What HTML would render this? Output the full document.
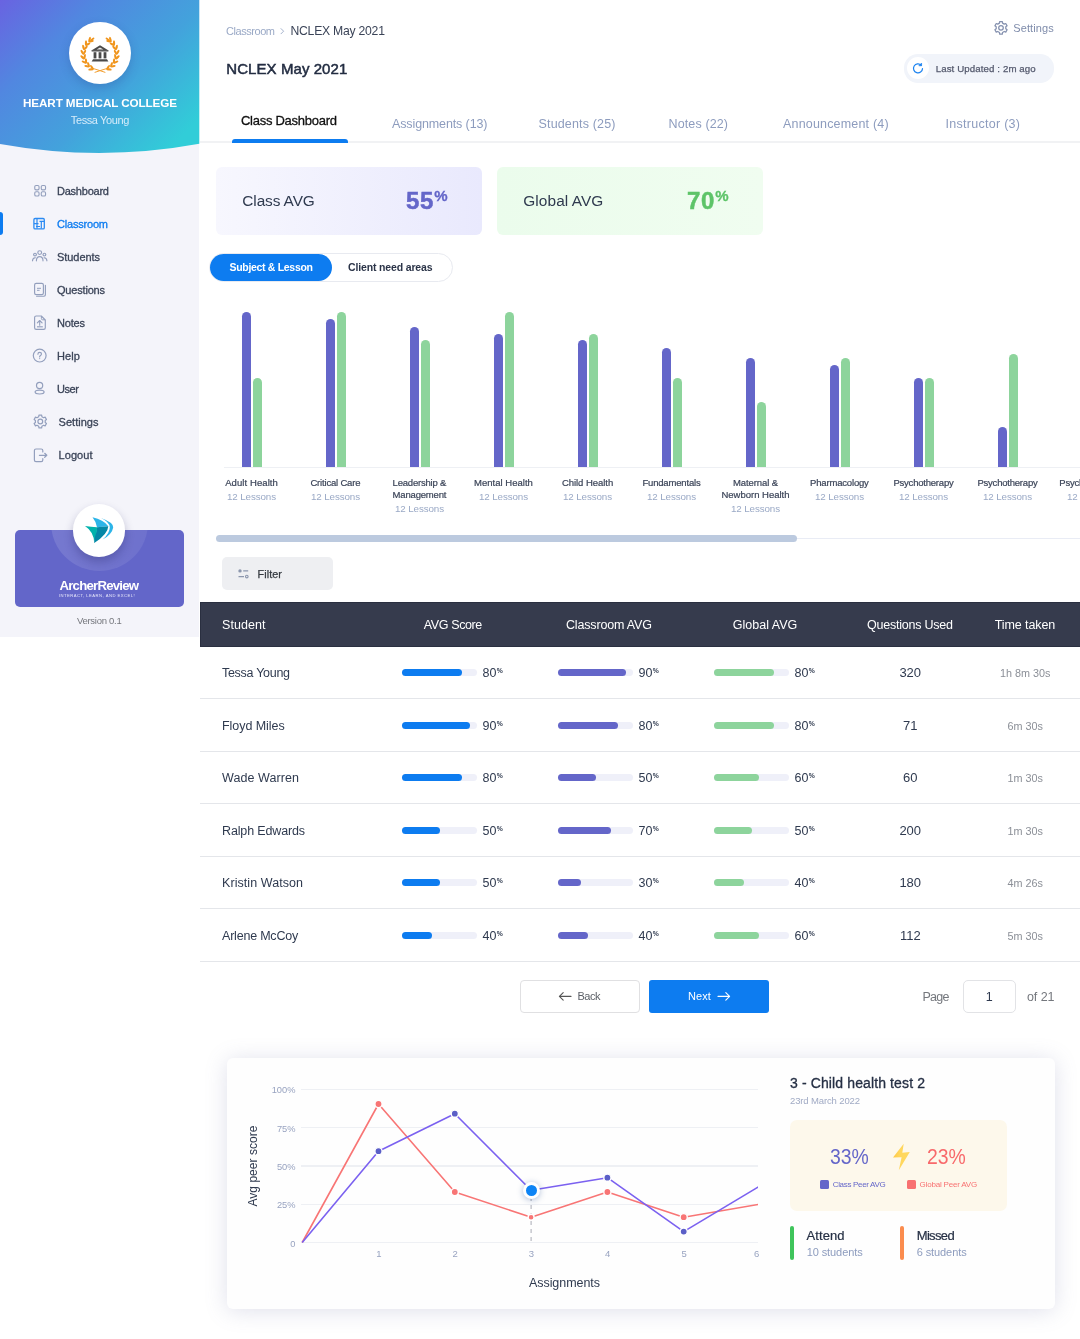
<!DOCTYPE html>
<html lang="en">
<head>
<meta charset="utf-8">
<title>NCLEX May 2021 - Class Dashboard</title>
<style>
html,body{margin:0;padding:0;background:#fff;}
body{width:1080px;height:1339px;overflow:hidden;font-family:"Liberation Sans",sans-serif;}
#app{position:relative;width:1080px;height:1339px;overflow:hidden;background:#fff;}
.t{position:absolute;white-space:pre;font-family:"Liberation Sans",sans-serif;}
svg{position:absolute;overflow:visible;}
</style>
</head>
<body>
<div id="app">
<aside aria-label="Sidebar">
<div style="position:absolute;left:0px;top:0px;width:199.4px;height:637.3px;background:#f4f4fa;"></div>
<svg width="199.3" height="160" style="left:0;top:0" viewBox="0 0 199.3 160">
<defs><linearGradient id="hg" x1="0" y1="0" x2="1" y2="0.78">
<stop offset="0" stop-color="#6963e1"/><stop offset="0.3" stop-color="#5187e0"/><stop offset="0.65" stop-color="#43a2dc"/><stop offset="1" stop-color="#31cdd8"/></linearGradient></defs>
<path d="M0 0H199.3V143.8Q100 162 0 144Z" fill="url(#hg)"/></svg>
<div style="position:absolute;left:69px;top:22px;width:62px;height:62px;border-radius:50%;background:#fff;box-shadow:0 4px 10px rgba(40,60,140,.25);"></div>
<span class="t" style="left:23.0px;top:97.0px;font-size:11.7px;line-height:11.7px;color:#fff;font-weight:700;letter-spacing:-0.11px;">HEART MEDICAL COLLEGE</span>
<span class="t" style="left:70.8px;top:115.0px;font-size:11px;line-height:11px;color:#d6ecfa;letter-spacing:-0.39px;">Tessa Young</span>
<span class="t" style="left:57.0px;top:186.0px;font-size:11px;line-height:11px;color:#3b4458;letter-spacing:-0.23px;-webkit-text-stroke:0.3px #3b4458;">Dashboard</span>
<span class="t" style="left:57.0px;top:219.0px;font-size:11px;line-height:11px;color:#0d7cf0;letter-spacing:-0.2px;-webkit-text-stroke:0.3px #0d7cf0;">Classroom</span>
<span class="t" style="left:57.0px;top:252.0px;font-size:11px;line-height:11px;color:#3b4458;letter-spacing:-0.06px;-webkit-text-stroke:0.3px #3b4458;">Students</span>
<span class="t" style="left:57.0px;top:285.0px;font-size:11px;line-height:11px;color:#3b4458;letter-spacing:-0.19px;-webkit-text-stroke:0.3px #3b4458;">Questions</span>
<span class="t" style="left:57.0px;top:318.0px;font-size:11px;line-height:11px;color:#3b4458;letter-spacing:-0.19px;-webkit-text-stroke:0.3px #3b4458;">Notes</span>
<span class="t" style="left:57.0px;top:351.0px;font-size:11px;line-height:11px;color:#3b4458;letter-spacing:0.12px;-webkit-text-stroke:0.3px #3b4458;">Help</span>
<span class="t" style="left:57.0px;top:384.0px;font-size:11px;line-height:11px;color:#3b4458;letter-spacing:-0.41px;-webkit-text-stroke:0.3px #3b4458;">User</span>
<span class="t" style="left:58.5px;top:417.0px;font-size:11px;line-height:11px;color:#3b4458;letter-spacing:0.04px;-webkit-text-stroke:0.3px #3b4458;">Settings</span>
<span class="t" style="left:58.5px;top:450.0px;font-size:11px;line-height:11px;color:#3b4458;letter-spacing:0.07px;-webkit-text-stroke:0.3px #3b4458;">Logout</span>
<div style="position:absolute;left:0px;top:212px;width:3px;height:23px;background:#0d7cf0;border-radius:0 3px 3px 0;"></div>
<div style="position:absolute;left:15px;top:530px;width:169.4px;height:77.3px;border-radius:5px;overflow:hidden;background:#6366c9;"><div style="position:absolute;left:36.2px;top:-55.7px;width:96.6px;height:96.6px;border-radius:50%;background:linear-gradient(100deg,rgba(255,255,255,.13),rgba(255,255,255,.07));"></div></div>
<div style="position:absolute;left:72.8px;top:504.2px;width:52.4px;height:52.4px;border-radius:50%;background:#fff;box-shadow:0 5px 10px rgba(30,30,90,.28);"></div>
<span class="t" style="left:59.5px;top:579.0px;font-size:13.2px;line-height:13.2px;color:#fff;font-weight:700;letter-spacing:-0.77px;">ArcherReview</span>
<span class="t" style="left:58.8px;top:593.5px;font-size:4.2px;line-height:4.2px;color:#e6e6fa;letter-spacing:0.47px;">INTERACT, LEARN, AND EXCEL!</span>
<span class="t" style="left:76.9px;top:616.0px;font-size:9.5px;line-height:9.5px;color:#75777d;letter-spacing:-0.27px;">Version 0.1</span>
</aside>
<main>
<header>
<span class="t" style="left:226.0px;top:26.0px;font-size:11px;line-height:11px;color:#9aa9c6;letter-spacing:-0.45px;">Classroom</span>
<svg width="1080" height="60" style="left:0;top:0" viewBox="0 0 1080 60"><path d="M281 28.6L283.6 31.2L281 33.8" fill="none" stroke="#9aa9c6" stroke-width="0.9" stroke-linecap="round" stroke-linejoin="round"/></svg>
<span class="t" style="left:290.5px;top:25.0px;font-size:12.2px;line-height:12.2px;color:#3b4458;letter-spacing:-0.24px;">NCLEX May 2021</span>
<span class="t" style="left:226.3px;top:61.0px;font-size:15px;line-height:15px;color:#232d42;letter-spacing:0.07px;-webkit-text-stroke:0.5px #232d42;">NCLEX May 2021</span>
<span class="t" style="left:1013.3px;top:23.0px;font-size:11px;line-height:11px;color:#7f8cab;letter-spacing:0.09px;">Settings</span>
<div style="position:absolute;left:904px;top:54px;width:150px;height:28.5px;background:#f1f4fa;border-radius:14px;"></div>
<div style="position:absolute;left:907px;top:57.3px;width:22px;height:22px;background:#fff;border-radius:50%;"></div>
<span class="t" style="left:935.7px;top:64.0px;font-size:9.7px;line-height:9.7px;color:#555a6e;letter-spacing:0.1px;-webkit-text-stroke:0.25px #555a6e;">Last Updated : 2m ago</span>
<div style="position:absolute;left:200px;top:141px;width:880px;height:2px;background:#f1f2f4;"></div>
<div style="position:absolute;left:232px;top:139px;width:115.5px;height:3.5px;background:#0d7cf0;border-radius:3px 3px 0 0;"></div>
<span class="t" style="left:241.0px;top:114.0px;font-size:13px;line-height:13px;color:#111;letter-spacing:-0.27px;-webkit-text-stroke:0.3px #111;">Class Dashboard</span>
<span class="t" style="left:392.0px;top:118.0px;font-size:12.5px;line-height:12.5px;color:#8d9cbe;letter-spacing:-0.12px;">Assignments (13)</span>
<span class="t" style="left:538.5px;top:118.0px;font-size:12.5px;line-height:12.5px;color:#8d9cbe;letter-spacing:0.16px;">Students (25)</span>
<span class="t" style="left:668.5px;top:118.0px;font-size:12.5px;line-height:12.5px;color:#8d9cbe;letter-spacing:0.13px;">Notes (22)</span>
<span class="t" style="left:783.0px;top:118.0px;font-size:12.5px;line-height:12.5px;color:#8d9cbe;letter-spacing:0.18px;">Announcement (4)</span>
<span class="t" style="left:945.5px;top:118.0px;font-size:12.5px;line-height:12.5px;color:#8d9cbe;letter-spacing:0.28px;">Instructor (3)</span>
</header>
<section aria-label="Averages">
<div style="position:absolute;left:216px;top:167px;width:265.5px;height:68px;background:linear-gradient(90deg,#f7f7fe,#e9e9fd);border-radius:6px;"></div>
<div style="position:absolute;left:497px;top:167px;width:265.5px;height:68px;background:linear-gradient(90deg,#ebfcec,#f0fdf0);border-radius:6px;"></div>
<span class="t" style="left:242.3px;top:193.0px;font-size:15.4px;line-height:15.4px;color:#2f3a4f;letter-spacing:-0.1px;">Class AVG</span>
<span class="t" style="left:523.3px;top:193.0px;font-size:15.4px;line-height:15.4px;color:#2f3a4f;letter-spacing:0.08px;">Global AVG</span>
<span class="t" style="left:406.0px;top:189.0px;font-size:24px;line-height:24px;color:#6466c9;font-weight:700;letter-spacing:0.6px;-webkit-text-stroke:0.5px #6466c9;">55</span>
<span class="t" style="left:434.3px;top:188.0px;font-size:15px;line-height:15px;color:#6466c9;font-weight:700;-webkit-text-stroke:0.3px #6466c9;">%</span>
<span class="t" style="left:687.0px;top:189.0px;font-size:24px;line-height:24px;color:#5dc468;font-weight:700;letter-spacing:0.6px;-webkit-text-stroke:0.5px #5dc468;">70</span>
<span class="t" style="left:715.3px;top:188.0px;font-size:15px;line-height:15px;color:#5dc468;font-weight:700;-webkit-text-stroke:0.3px #5dc468;">%</span>
<div style="position:absolute;left:209px;top:252.5px;width:244px;height:29.5px;background:#fff;border:1px solid #e8eaf0;border-radius:15px;box-sizing:border-box;"></div>
<div style="position:absolute;left:210px;top:254px;width:122px;height:27px;background:#0d7cf0;border-radius:14px;"></div>
<span class="t" style="left:229.5px;top:262.0px;font-size:10.5px;line-height:10.5px;color:#fff;font-weight:700;letter-spacing:-0.31px;">Subject &amp; Lesson</span>
<span class="t" style="left:348.0px;top:262.0px;font-size:10.5px;line-height:10.5px;color:#2b3448;font-weight:700;letter-spacing:-0.15px;">Client need areas</span>
</section>
<section aria-label="Subject and lesson chart">
<div style="position:absolute;left:224px;top:467px;width:856px;height:1px;background:#eef0f4;"></div>
<div style="position:absolute;left:241.8px;top:312.4px;width:9.2px;height:154.90000000000003px;background:#6466c9;border-radius:4.6px 4.6px 0 0;"></div>
<div style="position:absolute;left:252.5px;top:378.4px;width:9.2px;height:88.90000000000003px;background:#8dd49c;border-radius:4.6px 4.6px 0 0;"></div>
<span class="t" style="left:225.2px;top:478.0px;font-size:9.5px;line-height:9.5px;color:#3b4458;letter-spacing:0.08px;-webkit-text-stroke:0.2px #3b4458;">Adult Health</span>
<span class="t" style="left:227.0px;top:492.0px;font-size:9.8px;line-height:9.8px;color:#9aa9c6;letter-spacing:-0.12px;">12 Lessons</span>
<div style="position:absolute;left:325.8px;top:319.3px;width:9.2px;height:148.0px;background:#6466c9;border-radius:4.6px 4.6px 0 0;"></div>
<div style="position:absolute;left:336.5px;top:312.4px;width:9.2px;height:154.90000000000003px;background:#8dd49c;border-radius:4.6px 4.6px 0 0;"></div>
<span class="t" style="left:310.4px;top:478.0px;font-size:9.5px;line-height:9.5px;color:#3b4458;letter-spacing:-0.18px;-webkit-text-stroke:0.2px #3b4458;">Critical Care</span>
<span class="t" style="left:311.0px;top:492.0px;font-size:9.8px;line-height:9.8px;color:#9aa9c6;letter-spacing:-0.12px;">12 Lessons</span>
<div style="position:absolute;left:409.8px;top:326.7px;width:9.2px;height:140.60000000000002px;background:#6466c9;border-radius:4.6px 4.6px 0 0;"></div>
<div style="position:absolute;left:420.5px;top:340.1px;width:9.2px;height:127.19999999999999px;background:#8dd49c;border-radius:4.6px 4.6px 0 0;"></div>
<span class="t" style="left:392.6px;top:478.0px;font-size:9.5px;line-height:9.5px;color:#3b4458;letter-spacing:-0.2px;-webkit-text-stroke:0.2px #3b4458;">Leadership &amp;</span>
<span class="t" style="left:392.6px;top:490.0px;font-size:9.5px;line-height:9.5px;color:#3b4458;letter-spacing:-0.18px;-webkit-text-stroke:0.2px #3b4458;">Management</span>
<span class="t" style="left:395.0px;top:504.0px;font-size:9.8px;line-height:9.8px;color:#9aa9c6;letter-spacing:-0.12px;">12 Lessons</span>
<div style="position:absolute;left:493.8px;top:334px;width:9.2px;height:133.3px;background:#6466c9;border-radius:4.6px 4.6px 0 0;"></div>
<div style="position:absolute;left:504.5px;top:312.4px;width:9.2px;height:154.90000000000003px;background:#8dd49c;border-radius:4.6px 4.6px 0 0;"></div>
<span class="t" style="left:474.1px;top:478.0px;font-size:9.5px;line-height:9.5px;color:#3b4458;letter-spacing:0.01px;-webkit-text-stroke:0.2px #3b4458;">Mental Health</span>
<span class="t" style="left:479.0px;top:492.0px;font-size:9.8px;line-height:9.8px;color:#9aa9c6;letter-spacing:-0.12px;">12 Lessons</span>
<div style="position:absolute;left:577.8px;top:340.1px;width:9.2px;height:127.19999999999999px;background:#6466c9;border-radius:4.6px 4.6px 0 0;"></div>
<div style="position:absolute;left:588.5px;top:334px;width:9.2px;height:133.3px;background:#8dd49c;border-radius:4.6px 4.6px 0 0;"></div>
<span class="t" style="left:561.9px;top:478.0px;font-size:9.5px;line-height:9.5px;color:#3b4458;letter-spacing:-0.04px;-webkit-text-stroke:0.2px #3b4458;">Child Health</span>
<span class="t" style="left:563.0px;top:492.0px;font-size:9.8px;line-height:9.8px;color:#9aa9c6;letter-spacing:-0.12px;">12 Lessons</span>
<div style="position:absolute;left:661.8px;top:348.3px;width:9.2px;height:119.0px;background:#6466c9;border-radius:4.6px 4.6px 0 0;"></div>
<div style="position:absolute;left:672.5px;top:378.4px;width:9.2px;height:88.90000000000003px;background:#8dd49c;border-radius:4.6px 4.6px 0 0;"></div>
<span class="t" style="left:642.4px;top:478.0px;font-size:9.5px;line-height:9.5px;color:#3b4458;letter-spacing:-0.17px;-webkit-text-stroke:0.2px #3b4458;">Fundamentals</span>
<span class="t" style="left:647.0px;top:492.0px;font-size:9.8px;line-height:9.8px;color:#9aa9c6;letter-spacing:-0.12px;">12 Lessons</span>
<div style="position:absolute;left:745.8px;top:358px;width:9.2px;height:109.30000000000001px;background:#6466c9;border-radius:4.6px 4.6px 0 0;"></div>
<div style="position:absolute;left:756.5px;top:401.6px;width:9.2px;height:65.69999999999999px;background:#8dd49c;border-radius:4.6px 4.6px 0 0;"></div>
<span class="t" style="left:732.9px;top:478.0px;font-size:9.5px;line-height:9.5px;color:#3b4458;letter-spacing:-0.08px;-webkit-text-stroke:0.2px #3b4458;">Maternal &amp;</span>
<span class="t" style="left:721.5px;top:490.0px;font-size:9.5px;line-height:9.5px;color:#3b4458;letter-spacing:-0.01px;-webkit-text-stroke:0.2px #3b4458;">Newborn Health</span>
<span class="t" style="left:731.0px;top:504.0px;font-size:9.8px;line-height:9.8px;color:#9aa9c6;letter-spacing:-0.12px;">12 Lessons</span>
<div style="position:absolute;left:829.8px;top:365px;width:9.2px;height:102.30000000000001px;background:#6466c9;border-radius:4.6px 4.6px 0 0;"></div>
<div style="position:absolute;left:840.5px;top:358px;width:9.2px;height:109.30000000000001px;background:#8dd49c;border-radius:4.6px 4.6px 0 0;"></div>
<span class="t" style="left:810.1px;top:478.0px;font-size:9.5px;line-height:9.5px;color:#3b4458;letter-spacing:-0.18px;-webkit-text-stroke:0.2px #3b4458;">Pharmacology</span>
<span class="t" style="left:815.0px;top:492.0px;font-size:9.8px;line-height:9.8px;color:#9aa9c6;letter-spacing:-0.12px;">12 Lessons</span>
<div style="position:absolute;left:913.8px;top:378.4px;width:9.2px;height:88.90000000000003px;background:#6466c9;border-radius:4.6px 4.6px 0 0;"></div>
<div style="position:absolute;left:924.5px;top:378.4px;width:9.2px;height:88.90000000000003px;background:#8dd49c;border-radius:4.6px 4.6px 0 0;"></div>
<span class="t" style="left:893.4px;top:478.0px;font-size:9.5px;line-height:9.5px;color:#3b4458;letter-spacing:-0.21px;-webkit-text-stroke:0.2px #3b4458;">Psychotherapy</span>
<span class="t" style="left:899.0px;top:492.0px;font-size:9.8px;line-height:9.8px;color:#9aa9c6;letter-spacing:-0.12px;">12 Lessons</span>
<div style="position:absolute;left:997.8px;top:426.5px;width:9.2px;height:40.80000000000001px;background:#6466c9;border-radius:4.6px 4.6px 0 0;"></div>
<div style="position:absolute;left:1008.5px;top:353.6px;width:9.2px;height:113.69999999999999px;background:#8dd49c;border-radius:4.6px 4.6px 0 0;"></div>
<span class="t" style="left:977.4px;top:478.0px;font-size:9.5px;line-height:9.5px;color:#3b4458;letter-spacing:-0.21px;-webkit-text-stroke:0.2px #3b4458;">Psychotherapy</span>
<span class="t" style="left:983.0px;top:492.0px;font-size:9.8px;line-height:9.8px;color:#9aa9c6;letter-spacing:-0.12px;">12 Lessons</span>
<span class="t" style="left:1059.3px;top:478.0px;font-size:9.5px;line-height:9.5px;color:#3b4458;letter-spacing:-0.21px;-webkit-text-stroke:0.2px #3b4458;">Psychotherapy</span>
<span class="t" style="left:1067.0px;top:492.0px;font-size:9.8px;line-height:9.8px;color:#9aa9c6;letter-spacing:-0.12px;">12 Lessons</span>
<div style="position:absolute;left:216px;top:538px;width:864px;height:1px;background:#e9ecf5;"></div>
<div style="position:absolute;left:216px;top:535px;width:580.5px;height:7px;background:#bccadf;border-radius:4px;"></div>
<div style="position:absolute;left:222.3px;top:557.4px;width:111px;height:32.7px;background:#eeeff2;border-radius:5px;"></div>
<span class="t" style="left:257.6px;top:569.0px;font-size:10.8px;line-height:10.8px;color:#33383f;letter-spacing:0.06px;-webkit-text-stroke:0.25px #33383f;">Filter</span>
</section>
<section aria-label="Students">
<div style="position:absolute;left:200px;top:602px;width:880px;height:44.5px;background:#363b4d;border:1px solid #2a2f40;border-right:0;box-sizing:border-box;"></div>
<span class="t" style="left:222.0px;top:619.0px;font-size:12.5px;line-height:12.5px;color:#fff;letter-spacing:0.07px;">Student</span>
<span class="t" style="left:423.8px;top:619.0px;font-size:12.5px;line-height:12.5px;color:#fff;letter-spacing:-0.39px;">AVG Score</span>
<span class="t" style="left:566.0px;top:619.0px;font-size:12.5px;line-height:12.5px;color:#fff;letter-spacing:-0.17px;">Classroom AVG</span>
<span class="t" style="left:732.8px;top:619.0px;font-size:12.5px;line-height:12.5px;color:#fff;letter-spacing:0.01px;">Global AVG</span>
<span class="t" style="left:867.0px;top:619.0px;font-size:12.5px;line-height:12.5px;color:#fff;letter-spacing:-0.23px;">Questions Used</span>
<span class="t" style="left:994.8px;top:619.0px;font-size:12.5px;line-height:12.5px;color:#fff;letter-spacing:-0.1px;">Time taken</span>
<div style="position:absolute;left:199.5px;top:698.2px;width:880.5px;height:1.2px;background:#e4e6ea;"></div>
<span class="t" style="left:222.0px;top:667.0px;font-size:12.5px;line-height:12.5px;color:#2f3a4f;letter-spacing:-0.29px;">Tessa Young</span>
<div style="position:absolute;left:402px;top:669.2px;width:75px;height:7.1px;background:#eff0f9;border-radius:3.5px;"></div>
<div style="position:absolute;left:402px;top:669.2px;width:60.0px;height:7.1px;background:#0d7cf0;border-radius:3.5px;"></div>
<span class="t" style="left:482.5px;top:667.0px;font-size:12.5px;line-height:12.5px;color:#2f3a4f;">80</span>
<span class="t" style="left:496.8px;top:668.0px;font-size:6.8px;line-height:6.8px;color:#2f3a4f;font-weight:700;">%</span>
<div style="position:absolute;left:558px;top:669.2px;width:75px;height:7.1px;background:#eff0f9;border-radius:3.5px;"></div>
<div style="position:absolute;left:558px;top:669.2px;width:67.5px;height:7.1px;background:#6466c9;border-radius:3.5px;"></div>
<span class="t" style="left:638.5px;top:667.0px;font-size:12.5px;line-height:12.5px;color:#2f3a4f;">90</span>
<span class="t" style="left:652.8px;top:668.0px;font-size:6.8px;line-height:6.8px;color:#2f3a4f;font-weight:700;">%</span>
<div style="position:absolute;left:714px;top:669.2px;width:75px;height:7.1px;background:#eff0f9;border-radius:3.5px;"></div>
<div style="position:absolute;left:714px;top:669.2px;width:60.0px;height:7.1px;background:#8dd49c;border-radius:3.5px;"></div>
<span class="t" style="left:794.5px;top:667.0px;font-size:12.5px;line-height:12.5px;color:#2f3a4f;">80</span>
<span class="t" style="left:808.8px;top:668.0px;font-size:6.8px;line-height:6.8px;color:#2f3a4f;font-weight:700;">%</span>
<span class="t" style="left:899.4px;top:666.0px;font-size:13px;line-height:13px;color:#2f3a4f;">320</span>
<span class="t" style="left:1000.1px;top:668.0px;font-size:10.8px;line-height:10.8px;color:#8b8f97;">1h 8m 30s</span>
<div style="position:absolute;left:199.5px;top:750.7px;width:880.5px;height:1.2px;background:#e4e6ea;"></div>
<span class="t" style="left:222.0px;top:720.0px;font-size:12.5px;line-height:12.5px;color:#2f3a4f;letter-spacing:-0.05px;">Floyd Miles</span>
<div style="position:absolute;left:402px;top:721.7px;width:75px;height:7.1px;background:#eff0f9;border-radius:3.5px;"></div>
<div style="position:absolute;left:402px;top:721.7px;width:67.5px;height:7.1px;background:#0d7cf0;border-radius:3.5px;"></div>
<span class="t" style="left:482.5px;top:720.0px;font-size:12.5px;line-height:12.5px;color:#2f3a4f;">90</span>
<span class="t" style="left:496.8px;top:721.0px;font-size:6.8px;line-height:6.8px;color:#2f3a4f;font-weight:700;">%</span>
<div style="position:absolute;left:558px;top:721.7px;width:75px;height:7.1px;background:#eff0f9;border-radius:3.5px;"></div>
<div style="position:absolute;left:558px;top:721.7px;width:60.0px;height:7.1px;background:#6466c9;border-radius:3.5px;"></div>
<span class="t" style="left:638.5px;top:720.0px;font-size:12.5px;line-height:12.5px;color:#2f3a4f;">80</span>
<span class="t" style="left:652.8px;top:721.0px;font-size:6.8px;line-height:6.8px;color:#2f3a4f;font-weight:700;">%</span>
<div style="position:absolute;left:714px;top:721.7px;width:75px;height:7.1px;background:#eff0f9;border-radius:3.5px;"></div>
<div style="position:absolute;left:714px;top:721.7px;width:60.0px;height:7.1px;background:#8dd49c;border-radius:3.5px;"></div>
<span class="t" style="left:794.5px;top:720.0px;font-size:12.5px;line-height:12.5px;color:#2f3a4f;">80</span>
<span class="t" style="left:808.8px;top:721.0px;font-size:6.8px;line-height:6.8px;color:#2f3a4f;font-weight:700;">%</span>
<span class="t" style="left:903.1px;top:719.0px;font-size:13px;line-height:13px;color:#2f3a4f;">71</span>
<span class="t" style="left:1007.6px;top:721.0px;font-size:10.8px;line-height:10.8px;color:#8b8f97;">6m 30s</span>
<div style="position:absolute;left:199.5px;top:803.2px;width:880.5px;height:1.2px;background:#e4e6ea;"></div>
<span class="t" style="left:222.0px;top:772.0px;font-size:12.5px;line-height:12.5px;color:#2f3a4f;letter-spacing:0.08px;">Wade Warren</span>
<div style="position:absolute;left:402px;top:774.2px;width:75px;height:7.1px;background:#eff0f9;border-radius:3.5px;"></div>
<div style="position:absolute;left:402px;top:774.2px;width:60.0px;height:7.1px;background:#0d7cf0;border-radius:3.5px;"></div>
<span class="t" style="left:482.5px;top:772.0px;font-size:12.5px;line-height:12.5px;color:#2f3a4f;">80</span>
<span class="t" style="left:496.8px;top:773.0px;font-size:6.8px;line-height:6.8px;color:#2f3a4f;font-weight:700;">%</span>
<div style="position:absolute;left:558px;top:774.2px;width:75px;height:7.1px;background:#eff0f9;border-radius:3.5px;"></div>
<div style="position:absolute;left:558px;top:774.2px;width:37.5px;height:7.1px;background:#6466c9;border-radius:3.5px;"></div>
<span class="t" style="left:638.5px;top:772.0px;font-size:12.5px;line-height:12.5px;color:#2f3a4f;">50</span>
<span class="t" style="left:652.8px;top:773.0px;font-size:6.8px;line-height:6.8px;color:#2f3a4f;font-weight:700;">%</span>
<div style="position:absolute;left:714px;top:774.2px;width:75px;height:7.1px;background:#eff0f9;border-radius:3.5px;"></div>
<div style="position:absolute;left:714px;top:774.2px;width:45.0px;height:7.1px;background:#8dd49c;border-radius:3.5px;"></div>
<span class="t" style="left:794.5px;top:772.0px;font-size:12.5px;line-height:12.5px;color:#2f3a4f;">60</span>
<span class="t" style="left:808.8px;top:773.0px;font-size:6.8px;line-height:6.8px;color:#2f3a4f;font-weight:700;">%</span>
<span class="t" style="left:903.1px;top:771.0px;font-size:13px;line-height:13px;color:#2f3a4f;">60</span>
<span class="t" style="left:1007.6px;top:773.0px;font-size:10.8px;line-height:10.8px;color:#8b8f97;">1m 30s</span>
<div style="position:absolute;left:199.5px;top:855.7px;width:880.5px;height:1.2px;background:#e4e6ea;"></div>
<span class="t" style="left:222.0px;top:825.0px;font-size:12.5px;line-height:12.5px;color:#2f3a4f;letter-spacing:-0.14px;">Ralph Edwards</span>
<div style="position:absolute;left:402px;top:826.7px;width:75px;height:7.1px;background:#eff0f9;border-radius:3.5px;"></div>
<div style="position:absolute;left:402px;top:826.7px;width:37.5px;height:7.1px;background:#0d7cf0;border-radius:3.5px;"></div>
<span class="t" style="left:482.5px;top:825.0px;font-size:12.5px;line-height:12.5px;color:#2f3a4f;">50</span>
<span class="t" style="left:496.8px;top:826.0px;font-size:6.8px;line-height:6.8px;color:#2f3a4f;font-weight:700;">%</span>
<div style="position:absolute;left:558px;top:826.7px;width:75px;height:7.1px;background:#eff0f9;border-radius:3.5px;"></div>
<div style="position:absolute;left:558px;top:826.7px;width:52.5px;height:7.1px;background:#6466c9;border-radius:3.5px;"></div>
<span class="t" style="left:638.5px;top:825.0px;font-size:12.5px;line-height:12.5px;color:#2f3a4f;">70</span>
<span class="t" style="left:652.8px;top:826.0px;font-size:6.8px;line-height:6.8px;color:#2f3a4f;font-weight:700;">%</span>
<div style="position:absolute;left:714px;top:826.7px;width:75px;height:7.1px;background:#eff0f9;border-radius:3.5px;"></div>
<div style="position:absolute;left:714px;top:826.7px;width:37.5px;height:7.1px;background:#8dd49c;border-radius:3.5px;"></div>
<span class="t" style="left:794.5px;top:825.0px;font-size:12.5px;line-height:12.5px;color:#2f3a4f;">50</span>
<span class="t" style="left:808.8px;top:826.0px;font-size:6.8px;line-height:6.8px;color:#2f3a4f;font-weight:700;">%</span>
<span class="t" style="left:899.4px;top:824.0px;font-size:13px;line-height:13px;color:#2f3a4f;">200</span>
<span class="t" style="left:1007.6px;top:826.0px;font-size:10.8px;line-height:10.8px;color:#8b8f97;">1m 30s</span>
<div style="position:absolute;left:199.5px;top:908.2px;width:880.5px;height:1.2px;background:#e4e6ea;"></div>
<span class="t" style="left:222.0px;top:877.0px;font-size:12.5px;line-height:12.5px;color:#2f3a4f;letter-spacing:0.07px;">Kristin Watson</span>
<div style="position:absolute;left:402px;top:879.2px;width:75px;height:7.1px;background:#eff0f9;border-radius:3.5px;"></div>
<div style="position:absolute;left:402px;top:879.2px;width:37.5px;height:7.1px;background:#0d7cf0;border-radius:3.5px;"></div>
<span class="t" style="left:482.5px;top:877.0px;font-size:12.5px;line-height:12.5px;color:#2f3a4f;">50</span>
<span class="t" style="left:496.8px;top:878.0px;font-size:6.8px;line-height:6.8px;color:#2f3a4f;font-weight:700;">%</span>
<div style="position:absolute;left:558px;top:879.2px;width:75px;height:7.1px;background:#eff0f9;border-radius:3.5px;"></div>
<div style="position:absolute;left:558px;top:879.2px;width:22.5px;height:7.1px;background:#6466c9;border-radius:3.5px;"></div>
<span class="t" style="left:638.5px;top:877.0px;font-size:12.5px;line-height:12.5px;color:#2f3a4f;">30</span>
<span class="t" style="left:652.8px;top:878.0px;font-size:6.8px;line-height:6.8px;color:#2f3a4f;font-weight:700;">%</span>
<div style="position:absolute;left:714px;top:879.2px;width:75px;height:7.1px;background:#eff0f9;border-radius:3.5px;"></div>
<div style="position:absolute;left:714px;top:879.2px;width:30.0px;height:7.1px;background:#8dd49c;border-radius:3.5px;"></div>
<span class="t" style="left:794.5px;top:877.0px;font-size:12.5px;line-height:12.5px;color:#2f3a4f;">40</span>
<span class="t" style="left:808.8px;top:878.0px;font-size:6.8px;line-height:6.8px;color:#2f3a4f;font-weight:700;">%</span>
<span class="t" style="left:899.4px;top:876.0px;font-size:13px;line-height:13px;color:#2f3a4f;">180</span>
<span class="t" style="left:1007.6px;top:878.0px;font-size:10.8px;line-height:10.8px;color:#8b8f97;">4m 26s</span>
<div style="position:absolute;left:199.5px;top:960.7px;width:880.5px;height:1.2px;background:#e4e6ea;"></div>
<span class="t" style="left:222.0px;top:930.0px;font-size:12.5px;line-height:12.5px;color:#2f3a4f;letter-spacing:-0.21px;">Arlene McCoy</span>
<div style="position:absolute;left:402px;top:931.7px;width:75px;height:7.1px;background:#eff0f9;border-radius:3.5px;"></div>
<div style="position:absolute;left:402px;top:931.7px;width:30.0px;height:7.1px;background:#0d7cf0;border-radius:3.5px;"></div>
<span class="t" style="left:482.5px;top:930.0px;font-size:12.5px;line-height:12.5px;color:#2f3a4f;">40</span>
<span class="t" style="left:496.8px;top:931.0px;font-size:6.8px;line-height:6.8px;color:#2f3a4f;font-weight:700;">%</span>
<div style="position:absolute;left:558px;top:931.7px;width:75px;height:7.1px;background:#eff0f9;border-radius:3.5px;"></div>
<div style="position:absolute;left:558px;top:931.7px;width:30.0px;height:7.1px;background:#6466c9;border-radius:3.5px;"></div>
<span class="t" style="left:638.5px;top:930.0px;font-size:12.5px;line-height:12.5px;color:#2f3a4f;">40</span>
<span class="t" style="left:652.8px;top:931.0px;font-size:6.8px;line-height:6.8px;color:#2f3a4f;font-weight:700;">%</span>
<div style="position:absolute;left:714px;top:931.7px;width:75px;height:7.1px;background:#eff0f9;border-radius:3.5px;"></div>
<div style="position:absolute;left:714px;top:931.7px;width:45.0px;height:7.1px;background:#8dd49c;border-radius:3.5px;"></div>
<span class="t" style="left:794.5px;top:930.0px;font-size:12.5px;line-height:12.5px;color:#2f3a4f;">60</span>
<span class="t" style="left:808.8px;top:931.0px;font-size:6.8px;line-height:6.8px;color:#2f3a4f;font-weight:700;">%</span>
<span class="t" style="left:899.9px;top:929.0px;font-size:13px;line-height:13px;color:#2f3a4f;">112</span>
<span class="t" style="left:1007.6px;top:931.0px;font-size:10.8px;line-height:10.8px;color:#8b8f97;">5m 30s</span>
</section>
<nav aria-label="Pagination">
<div style="position:absolute;left:520px;top:979.5px;width:120px;height:33px;background:#fff;border:1px solid #e0e0e2;border-radius:4px;box-sizing:border-box;"></div>
<div style="position:absolute;left:649px;top:979.5px;width:120px;height:33px;background:#0d7cf0;border-radius:3px;"></div>
<span class="t" style="left:577.5px;top:991.0px;font-size:11px;line-height:11px;color:#5b5f66;letter-spacing:-0.49px;">Back</span>
<span class="t" style="left:688.0px;top:991.0px;font-size:11px;line-height:11px;color:#fff;letter-spacing:0.06px;">Next</span>
<span class="t" style="left:922.5px;top:991.0px;font-size:12.5px;line-height:12.5px;color:#74777d;letter-spacing:-0.73px;">Page</span>
<div style="position:absolute;left:963px;top:979.5px;width:52.5px;height:33px;background:#fff;border:1px solid #e2e3e6;border-radius:5px;box-sizing:border-box;"></div>
<span class="t" style="left:985.8px;top:991.0px;font-size:12.5px;line-height:12.5px;color:#2f3a4f;">1</span>
<span class="t" style="left:1027.0px;top:991.0px;font-size:12.5px;line-height:12.5px;color:#74777d;letter-spacing:-0.08px;">of 21</span>
</nav>
<section aria-label="Assignments chart">
<div style="position:absolute;left:226.5px;top:1057.5px;width:828px;height:251.5px;background:#fefefe;border-radius:6px;box-shadow:0 2px 22px rgba(110,115,165,.22);"></div>
<div style="position:absolute;left:301px;top:1088.8px;width:456.5px;height:1.2px;background:#eef0f4;"></div>
<span class="t" style="left:271.7px;top:1086.0px;font-size:9.3px;line-height:9.3px;color:#98a3c0;">100%</span>
<div style="position:absolute;left:301px;top:1127.1px;width:456.5px;height:1.2px;background:#eef0f4;"></div>
<span class="t" style="left:276.9px;top:1125.0px;font-size:9.3px;line-height:9.3px;color:#98a3c0;">75%</span>
<div style="position:absolute;left:301px;top:1165.4px;width:456.5px;height:1.2px;background:#eef0f4;"></div>
<span class="t" style="left:276.9px;top:1163.0px;font-size:9.3px;line-height:9.3px;color:#98a3c0;">50%</span>
<div style="position:absolute;left:301px;top:1203.7px;width:456.5px;height:1.2px;background:#eef0f4;"></div>
<span class="t" style="left:276.9px;top:1201.0px;font-size:9.3px;line-height:9.3px;color:#98a3c0;">25%</span>
<div style="position:absolute;left:301px;top:1242.0px;width:456.5px;height:1.2px;background:#eef0f4;"></div>
<span class="t" style="left:290.3px;top:1240.0px;font-size:9.3px;line-height:9.3px;color:#98a3c0;">0</span>
<span class="t" style="left:376.2px;top:1249.0px;font-size:9.5px;line-height:9.5px;color:#98a3c0;">1</span>
<span class="t" style="left:452.5px;top:1249.0px;font-size:9.5px;line-height:9.5px;color:#98a3c0;">2</span>
<span class="t" style="left:528.8px;top:1249.0px;font-size:9.5px;line-height:9.5px;color:#98a3c0;">3</span>
<span class="t" style="left:605.1px;top:1249.0px;font-size:9.5px;line-height:9.5px;color:#98a3c0;">4</span>
<span class="t" style="left:681.4px;top:1249.0px;font-size:9.5px;line-height:9.5px;color:#98a3c0;">5</span>
<span class="t" style="left:753.9px;top:1249.0px;font-size:9.5px;line-height:9.5px;color:#98a3c0;">6</span>
<svg width="1080" height="1339" style="left:0;top:0" viewBox="0 0 1080 1339"><clipPath id="lc"><rect x="300" y="1080" width="458" height="170"/></clipPath><line x1="531.1" y1="1197" x2="531.1" y2="1242.5" stroke="#a9acb6" stroke-width="1" stroke-dasharray="4 4"/><g clip-path="url(#lc)"><polyline points="302.2,1242.5 378.5,1104.0 454.8,1192.0 531.1,1217.2 607.4,1192.0 683.7,1217.2 760.0,1204.2" fill="none" stroke="#f87575" stroke-width="1.6" stroke-linejoin="round"/><polyline points="302.2,1242.5 378.5,1151.2 454.8,1113.7 531.1,1190.3 607.4,1177.7 683.7,1231.6 760.0,1185.9" fill="none" stroke="#7b61f0" stroke-width="1.6" stroke-linejoin="round"/></g><circle cx="378.5" cy="1104" r="3.6" fill="#f87575" stroke="#fff" stroke-width="1.4"/><circle cx="454.8" cy="1192" r="3.6" fill="#f87575" stroke="#fff" stroke-width="1.4"/><circle cx="531.1" cy="1217.2" r="3.0" fill="#f87575" stroke="#fff" stroke-width="1.4"/><circle cx="607.4" cy="1192" r="3.6" fill="#f87575" stroke="#fff" stroke-width="1.4"/><circle cx="683.7" cy="1217.2" r="3.6" fill="#f87575" stroke="#fff" stroke-width="1.4"/><circle cx="378.5" cy="1151.2" r="3.6" fill="#5b5fc7" stroke="#fff" stroke-width="1.4"/><circle cx="454.8" cy="1113.7" r="3.6" fill="#5b5fc7" stroke="#fff" stroke-width="1.4"/><circle cx="607.4" cy="1177.7" r="3.6" fill="#5b5fc7" stroke="#fff" stroke-width="1.4"/><circle cx="683.7" cy="1231.6" r="3.6" fill="#5b5fc7" stroke="#fff" stroke-width="1.4"/></svg>
<div style="position:absolute;left:522.6px;top:1182.0px;width:17px;height:17px;background:#0d84f5;border:3px solid #fff;border-radius:50%;box-sizing:border-box;box-shadow:0 1px 6px rgba(30,70,140,.35);"></div>
<span class="t" style="left:529.0px;top:1277.0px;font-size:12.5px;line-height:12.5px;color:#2f3a4f;letter-spacing:-0.06px;">Assignments</span>
<span class="t" style="left:253.4px;top:1165.5px;font-size:12px;line-height:12px;color:#2f3a4f;letter-spacing:0.05px;transform:translate(-50%,-50%) rotate(-90deg);">Avg peer score</span>
<span class="t" style="left:790.0px;top:1076.0px;font-size:14px;line-height:14px;color:#252f44;letter-spacing:0.12px;-webkit-text-stroke:0.3px #252f44;">3 - Child health test 2</span>
<span class="t" style="left:790.0px;top:1096.0px;font-size:9.5px;line-height:9.5px;color:#a0aac4;letter-spacing:-0.13px;">23rd March 2022</span>
<div style="position:absolute;left:790px;top:1120.4px;width:217px;height:90.7px;background:#fdf8eb;border-radius:7px;"></div>
<span class="t" style="left:829.5px;top:1146.0px;font-size:21.8px;line-height:21.8px;color:#6466c9;transform:scaleX(.89);transform-origin:0 0;">33%</span>
<span class="t" style="left:927.3px;top:1146.0px;font-size:21.8px;line-height:21.8px;color:#f8696b;transform:scaleX(.89);transform-origin:0 0;">23%</span>
<div style="position:absolute;left:820px;top:1180px;width:8.7px;height:8.7px;background:#6466c9;border-radius:1.5px;"></div>
<div style="position:absolute;left:907px;top:1180px;width:8.7px;height:8.7px;background:#f87171;border-radius:1.5px;"></div>
<span class="t" style="left:832.7px;top:1181.0px;font-size:8px;line-height:8px;color:#6466c9;letter-spacing:-0.32px;">Class Peer AVG</span>
<span class="t" style="left:919.6px;top:1181.0px;font-size:8px;line-height:8px;color:#f87171;letter-spacing:-0.2px;">Global Peer AVG</span>
<div style="position:absolute;left:790px;top:1225.6px;width:3.5px;height:34.4px;background:#3fc45b;border-radius:2px;"></div>
<div style="position:absolute;left:900px;top:1225.6px;width:3.5px;height:34.4px;background:#fb8c4e;border-radius:2px;"></div>
<span class="t" style="left:806.5px;top:1229.0px;font-size:13px;line-height:13px;color:#252f44;letter-spacing:0.08px;-webkit-text-stroke:0.2px #252f44;">Attend</span>
<span class="t" style="left:916.7px;top:1229.0px;font-size:13px;line-height:13px;color:#252f44;letter-spacing:-0.64px;-webkit-text-stroke:0.2px #252f44;">Missed</span>
<span class="t" style="left:806.7px;top:1247.0px;font-size:11px;line-height:11px;color:#8d9cbe;letter-spacing:-0.09px;">10 students</span>
<span class="t" style="left:916.7px;top:1247.0px;font-size:11px;line-height:11px;color:#8d9cbe;letter-spacing:-0.09px;">6 students</span>
</section>
</main>
<svg width="1080" height="1339" style="left:0;top:0" viewBox="0 0 1080 1339"><ellipse cx="90.96" cy="69.41" rx="2.7" ry="1.1" transform="rotate(-186.0 90.96 69.41)" fill="#f0951c"/><ellipse cx="91.90" cy="67.30" rx="2.7" ry="1.1" transform="rotate(-126.0 91.90 67.30)" fill="#f0951c"/><ellipse cx="87.00" cy="66.25" rx="2.7" ry="1.1" transform="rotate(-169.7 87.00 66.25)" fill="#f0951c"/><ellipse cx="88.49" cy="64.50" rx="2.7" ry="1.1" transform="rotate(-109.7 88.49 64.50)" fill="#f0951c"/><ellipse cx="84.09" cy="62.12" rx="2.7" ry="1.1" transform="rotate(-153.4 84.09 62.12)" fill="#f0951c"/><ellipse cx="86.01" cy="60.85" rx="2.7" ry="1.1" transform="rotate(-93.4 86.01 60.85)" fill="#f0951c"/><ellipse cx="82.45" cy="57.33" rx="2.7" ry="1.1" transform="rotate(-137.1 82.45 57.33)" fill="#f0951c"/><ellipse cx="84.65" cy="56.65" rx="2.7" ry="1.1" transform="rotate(-77.1 84.65 56.65)" fill="#f0951c"/><ellipse cx="82.22" cy="52.27" rx="2.7" ry="1.1" transform="rotate(-120.9 82.22 52.27)" fill="#f0951c"/><ellipse cx="84.52" cy="52.24" rx="2.7" ry="1.1" transform="rotate(-60.9 84.52 52.24)" fill="#f0951c"/><ellipse cx="83.42" cy="47.36" rx="2.7" ry="1.1" transform="rotate(-104.6 83.42 47.36)" fill="#f0951c"/><ellipse cx="85.64" cy="47.97" rx="2.7" ry="1.1" transform="rotate(-44.6 85.64 47.97)" fill="#f0951c"/><ellipse cx="85.95" cy="42.97" rx="2.7" ry="1.1" transform="rotate(-88.3 85.95 42.97)" fill="#f0951c"/><ellipse cx="87.90" cy="44.18" rx="2.7" ry="1.1" transform="rotate(-28.3 87.90 44.18)" fill="#f0951c"/><ellipse cx="89.60" cy="39.48" rx="2.7" ry="1.1" transform="rotate(-72.0 89.60 39.48)" fill="#f0951c"/><ellipse cx="91.14" cy="41.19" rx="2.7" ry="1.1" transform="rotate(-12.0 91.14 41.19)" fill="#f0951c"/><ellipse cx="92.34" cy="39.18" rx="2.4" ry="0.9" transform="rotate(-32.8 92.34 39.18)" fill="#f0951c"/><ellipse cx="108.10" cy="67.30" rx="2.7" ry="1.1" transform="rotate(-54.0 108.10 67.30)" fill="#f0951c"/><ellipse cx="109.04" cy="69.41" rx="2.7" ry="1.1" transform="rotate(6.0 109.04 69.41)" fill="#f0951c"/><ellipse cx="111.51" cy="64.50" rx="2.7" ry="1.1" transform="rotate(-70.3 111.51 64.50)" fill="#f0951c"/><ellipse cx="113.00" cy="66.25" rx="2.7" ry="1.1" transform="rotate(-10.3 113.00 66.25)" fill="#f0951c"/><ellipse cx="113.99" cy="60.85" rx="2.7" ry="1.1" transform="rotate(-86.6 113.99 60.85)" fill="#f0951c"/><ellipse cx="115.91" cy="62.12" rx="2.7" ry="1.1" transform="rotate(-26.6 115.91 62.12)" fill="#f0951c"/><ellipse cx="115.35" cy="56.65" rx="2.7" ry="1.1" transform="rotate(-102.9 115.35 56.65)" fill="#f0951c"/><ellipse cx="117.55" cy="57.33" rx="2.7" ry="1.1" transform="rotate(-42.9 117.55 57.33)" fill="#f0951c"/><ellipse cx="115.48" cy="52.24" rx="2.7" ry="1.1" transform="rotate(-119.1 115.48 52.24)" fill="#f0951c"/><ellipse cx="117.78" cy="52.27" rx="2.7" ry="1.1" transform="rotate(-59.1 117.78 52.27)" fill="#f0951c"/><ellipse cx="114.36" cy="47.97" rx="2.7" ry="1.1" transform="rotate(-135.4 114.36 47.97)" fill="#f0951c"/><ellipse cx="116.58" cy="47.36" rx="2.7" ry="1.1" transform="rotate(-75.4 116.58 47.36)" fill="#f0951c"/><ellipse cx="112.10" cy="44.18" rx="2.7" ry="1.1" transform="rotate(-151.7 112.10 44.18)" fill="#f0951c"/><ellipse cx="114.05" cy="42.97" rx="2.7" ry="1.1" transform="rotate(-91.7 114.05 42.97)" fill="#f0951c"/><ellipse cx="108.86" cy="41.19" rx="2.7" ry="1.1" transform="rotate(-168.0 108.86 41.19)" fill="#f0951c"/><ellipse cx="110.40" cy="39.48" rx="2.7" ry="1.1" transform="rotate(-108.0 110.40 39.48)" fill="#f0951c"/><ellipse cx="107.66" cy="39.18" rx="2.4" ry="0.9" transform="rotate(-147.2 107.66 39.18)" fill="#f0951c"/><path d="M95 72.3 Q100 70.6 106.5 68.6" stroke="#f0951c" stroke-width="0.9" fill="none" stroke-linecap="round"/><path d="M105 72.3 Q100 70.6 93.5 68.6" stroke="#f0951c" stroke-width="0.9" fill="none" stroke-linecap="round"/><path d="M100 45.2L108.6 50.4H91.4Z" fill="#4a4a4a"/><path d="M100 47.4L103.4 49.4H96.6Z" fill="#e8e8e8"/><rect x="91.6" y="50.2" width="16.8" height="1.3" fill="#4a4a4a"/><rect x="93.6" y="52.2" width="2.8" height="6.2" fill="#4a4a4a"/><rect x="98.6" y="52.2" width="2.8" height="6.2" fill="#4a4a4a"/><rect x="103.6" y="52.2" width="2.8" height="6.2" fill="#4a4a4a"/><path d="M93 59.2H107L108.4 61.4H91.6Z" fill="#4a4a4a"/><rect x="34.75" y="185.55" width="4.3" height="4.3" rx="1.3" fill="none" stroke="#939fbd" stroke-width="1.1"/><rect x="34.75" y="191.75" width="4.3" height="4.3" rx="1.3" fill="none" stroke="#939fbd" stroke-width="1.1"/><rect x="41.25" y="185.55" width="4.3" height="4.3" rx="1.3" fill="none" stroke="#939fbd" stroke-width="1.1"/><rect x="41.25" y="191.75" width="4.3" height="4.3" rx="1.3" fill="none" stroke="#939fbd" stroke-width="1.1"/><rect x="33.9" y="218.5" width="10.4" height="10.4" rx="1.2" fill="none" stroke="#2b8af2" stroke-width="1.3"/><path d="M37 219V228.5M41.3 221V228.5M34 223.6H38.5M39.5 221.3H44M36 226.5H40" stroke="#2b8af2" stroke-width="1.2" fill="none"/><circle cx="39.7" cy="252.6" r="1.9" fill="none" stroke="#939fbd" stroke-width="1.15"/><circle cx="35" cy="254.6" r="1.4" fill="none" stroke="#939fbd" stroke-width="1.15"/><circle cx="44.4" cy="254.6" r="1.4" fill="none" stroke="#939fbd" stroke-width="1.15"/><path d="M36.4 260.8Q36.4 256.6 39.7 256.6Q43 256.6 43 260.8M32.5 260.8Q32.6 258 35.2 257.7M46.9 260.8Q46.8 258 44.2 257.7" fill="none" stroke="#939fbd" stroke-width="1.15" stroke-linecap="round"/><path d="M36.6 296.2H44Q45.4 296.2 45.4 294.8V285.2" fill="none" stroke="#939fbd" stroke-width="1.15" stroke-linecap="round"/><rect x="34.6" y="283.3" width="8.8" height="11.3" rx="1.6" fill="none" stroke="#939fbd" stroke-width="1.15"/><path d="M37 288.3H41M37 290.3H39.6" stroke="#939fbd" stroke-width="1" fill="none"/><path d="M36.2 316H41.3L45.3 320V327.7Q45.3 329.3 43.7 329.3H36.2Q34.6 329.3 34.6 327.7V317.6Q34.6 316 36.2 316Z" fill="none" stroke="#939fbd" stroke-width="1.15" stroke-linejoin="round"/><path d="M41.4 316.3V318.6Q41.4 319.8 42.6 319.8H45" fill="none" stroke="#939fbd" stroke-width="1"/><path d="M37.3 322.9L39.7 320.5L42.1 322.9M39.7 320.9V325.2" fill="none" stroke="#939fbd" stroke-width="1.1" stroke-linecap="round" stroke-linejoin="round"/><path d="M37 326.8H42.8" stroke="#939fbd" stroke-width="1.15"/><circle cx="39.7" cy="355.6" r="6.4" fill="none" stroke="#939fbd" stroke-width="1.2"/><path d="M37.9 354.2Q37.9 352.4 39.7 352.4Q41.5 352.4 41.5 354Q41.5 355 39.7 356.2V357" fill="none" stroke="#939fbd" stroke-width="1.15" stroke-linecap="round"/><circle cx="39.7" cy="358.6" r="0.6" fill="#939fbd"/><circle cx="39.6" cy="385.5" r="3.1" fill="none" stroke="#939fbd" stroke-width="1.2"/><ellipse cx="39.6" cy="392.1" rx="4.5" ry="1.9" fill="none" stroke="#939fbd" stroke-width="1.2"/><path d="M38.71 416.76 L38.95 415.14 L41.65 415.14 L41.89 416.76 L43.61 417.75 L45.13 417.15 L46.48 419.49 L45.20 420.51 L45.20 422.49 L46.48 423.51 L45.13 425.85 L43.61 425.25 L41.89 426.24 L41.65 427.86 L38.95 427.86 L38.71 426.24 L36.99 425.25 L35.47 425.85 L34.12 423.51 L35.40 422.49 L35.40 420.51 L34.12 419.49 L35.47 417.15 L36.99 417.75Z" fill="none" stroke="#939fbd" stroke-width="1.2" stroke-linejoin="round"/><circle cx="40.3" cy="421.5" r="2.4" fill="none" stroke="#939fbd" stroke-width="1.2"/><path d="M42.8 452V450.6Q42.8 449 41.2 449H36Q34.4 449 34.4 450.6V460Q34.4 461.6 36 461.6H41.2Q42.8 461.6 42.8 460V458.6" fill="none" stroke="#939fbd" stroke-width="1.2" stroke-linecap="round"/><path d="M39.4 455.3H46.6M44.7 453.3L46.8 455.3L44.7 457.3" fill="none" stroke="#939fbd" stroke-width="1.2" stroke-linecap="round" stroke-linejoin="round"/><path d="M92.5 517.2Q103.5 519.5 108.3 526.2L97 527.2Q96.5 522.3 92.5 517.2Z" fill="#2cb4e8"/><path d="M85 526.1Q91 526.9 97 527.2L96.9 534Q94.6 538 94.2 543Q94 532 85 526.1Z" fill="#00b2ac"/><path d="M97 527.2L108.3 526.2Q108 534 94.2 543Q94.6 536 96.9 531Z" fill="#0487a6"/><path d="M101 518Q113.5 522.5 113.2 527.4Q112 534.5 102.5 539.5Q109.7 533.5 109.8 527.2Q109.5 522 101 518Z" fill="#2cb4e8"/><path d="M999.44 23.16 L999.67 21.54 L1002.33 21.54 L1002.56 23.16 L1004.24 24.12 L1005.76 23.52 L1007.09 25.82 L1005.80 26.83 L1005.80 28.77 L1007.09 29.78 L1005.76 32.08 L1004.24 31.48 L1002.56 32.44 L1002.33 34.06 L999.67 34.06 L999.44 32.44 L997.76 31.48 L996.24 32.08 L994.91 29.78 L996.20 28.77 L996.20 26.83 L994.91 25.82 L996.24 23.52 L997.76 24.12Z" fill="none" stroke="#8591af" stroke-width="1.25" stroke-linejoin="round"/><circle cx="1001" cy="27.8" r="2.3" fill="none" stroke="#8591af" stroke-width="1.25"/><path d="M921.2 65.2A4.5 4.5 0 1 0 922.5 68.6" fill="none" stroke="#1a82f0" stroke-width="1.2" stroke-linecap="round"/><path d="M921.6 63V65.8H918.8Z" fill="#1a82f0" stroke="#1a82f0" stroke-width="0.6" stroke-linejoin="round"/><circle cx="240" cy="570.9" r="1.7" fill="#8b96ad"/><path d="M243.2 570.9H248.2M238.5 576.6H244" stroke="#8b96ad" stroke-width="1.3" fill="none"/><circle cx="246.8" cy="576.6" r="1.3" fill="none" stroke="#8b96ad" stroke-width="1.1"/><path d="M559.4 996.4H571M563.2 992.6L559.4 996.4L563.2 1000.2" fill="none" stroke="#555" stroke-width="1.1" stroke-linecap="round" stroke-linejoin="round"/><path d="M718 996.4H729.6M725.8 992.6L729.6 996.4L725.8 1000.2" fill="none" stroke="#fff" stroke-width="1.1" stroke-linecap="round" stroke-linejoin="round"/><defs><linearGradient id="lg" x1="0" y1="0" x2="1" y2="0.3"><stop offset="0" stop-color="#fcc23e"/><stop offset="0.45" stop-color="#ffd65c"/><stop offset="1" stop-color="#ffd960"/></linearGradient></defs><path d="M903.7 1143.8L893 1157.6L901.6 1157.2L898.8 1170.2L909.8 1151.9L902.3 1152.8Z" fill="url(#lg)"/></svg>
</div>
</body>
</html>
